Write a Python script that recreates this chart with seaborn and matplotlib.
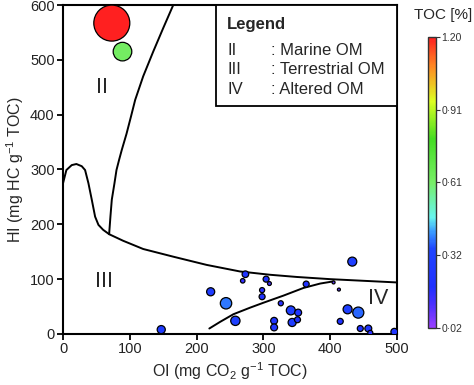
import numpy as np
import pandas as pd
import matplotlib
matplotlib.use("Agg")
import matplotlib.pyplot as plt
import seaborn as sns
from matplotlib.colors import LinearSegmentedColormap, Normalize
from matplotlib.cm import ScalarMappable
from matplotlib.patches import Rectangle

# samples: oxygen index, hydrogen index, TOC
oi = [73, 89, 147, 221, 244, 258, 273, 269, 298, 298, 304, 309, 326, 341, 352,
      351, 343, 316, 316, 364, 405, 413, 433, 426, 442, 415, 445, 457, 460, 496]
hi = [567, 515, 8, 77, 56, 24, 109, 97, 80, 68, 100, 92, 56, 43, 39,
      26, 21, 24, 12, 91, 94, 81, 132, 45, 39, 23, 10, 10, 2, 4]
toc = [1.20, 0.62, 0.27, 0.27, 0.38, 0.31, 0.22, 0.15, 0.17, 0.20, 0.20, 0.13, 0.17, 0.30, 0.23,
       0.20, 0.27, 0.23, 0.23, 0.20, 0.10, 0.10, 0.30, 0.30, 0.37, 0.20, 0.20, 0.23, 0.17, 0.23]

# kerogen type boundaries
line3_x = [0, 5, 13, 20, 28, 33, 38, 43, 48, 53, 60, 69, 90, 120, 165, 215, 265, 310, 350, 400, 450, 500]
line3_y = [275, 299, 308, 310, 306, 299, 275, 245, 214, 199, 190, 182, 170, 155, 141, 126, 114, 108, 104, 100, 97, 94]
line2_x = [69, 71, 73, 77, 80, 84, 88, 95, 102, 108, 120, 135, 150, 165]
line2_y = [182, 215, 245, 275, 299, 318, 336, 365, 398, 427, 470, 515, 558, 600]
line4_x = [219, 235, 255, 280, 300, 330, 360, 385, 405]
line4_y = [10, 22, 36, 48, 57, 70, 84, 92, 96]

cbar_ticks = [0.02, 0.315, 0.61, 0.905, 1.20]
cbar_labels = ["0·02", "0·32", "0·61", "0·91", "1.20"]
legend_keys = ["II", "III", "IV"]
legend_names = [": Marine OM", ": Terrestrial OM", ": Altered OM"]

sns.set_theme(style="white")
plt.rcParams["font.family"] = ["Liberation Sans", "DejaVu Sans"]
plt.rcParams["mathtext.default"] = "regular"

cmap = LinearSegmentedColormap.from_list("toc", [
    (0.0, "#9a40ff"), (0.08, "#4a30ff"), (0.14, "#2030ff"), (0.27, "#1f45ff"),
    (0.33, "#3a9aff"), (0.38, "#66f5ee"), (0.5, "#77ee66"), (0.65, "#44dd22"),
    (0.78, "#ddff22"), (0.9, "#ff8822"), (1.0, "#ff2020")])
norm = Normalize(0.02, 1.20)

df = pd.DataFrame({"OI": oi, "HI": hi, "TOC": toc})
df["area"] = df["TOC"] ** 2
df = df.sort_values("area", ascending=False)

fig = plt.figure(figsize=(4.74, 3.85), dpi=100)
ax = fig.add_axes([0.133, 0.1325, 0.7046, 0.8545])

for xs, ys in [(line3_x, line3_y), (line2_x, line2_y), (line4_x, line4_y)]:
    ax.plot(xs, ys, color="black", lw=1.4, zorder=2)

sns.scatterplot(data=df, x="OI", y="HI", hue="TOC", palette=cmap, hue_norm=norm,
                size="area", sizes=(0, 672), size_norm=(0, 1.44),
                edgecolor="black", linewidth=0.9, legend=False, ax=ax, zorder=3)

ax.set_xlim(0, 500)
ax.set_ylim(0, 600)
ax.set_xticks(range(0, 501, 100))
ax.set_yticks(range(0, 601, 100))
for s in ax.spines.values():
    s.set_color("black")
    s.set_linewidth(1.5)
ax.tick_params(bottom=True, left=True, direction="out", length=4, width=1.3,
               color="black", labelsize=10.5, labelcolor="#222222", pad=2)
ax.set_xlabel(r"OI (mg CO$_2$ g$^{-1}$ TOC)", fontsize=11.5, labelpad=3)
ax.set_ylabel(r"HI (mg HC g$^{-1}$ TOC)", fontsize=11.5, labelpad=3)

ax.text(58, 449, "II", fontsize=15.5, ha="center", va="center")
ax.text(62, 95, "III", fontsize=15.5, ha="center", va="center")
ax.text(472, 65, "IV", fontsize=15.5, ha="center", va="center")

# legend box
ax.add_patch(Rectangle((0.458, 0.693), 0.542, 0.307, transform=ax.transAxes,
                       facecolor="white", edgecolor="black", lw=1.3, zorder=4))
ax.text(0.491, 0.942, "Legend", transform=ax.transAxes, fontsize=12,
        fontweight="bold", va="center", zorder=5)
for i, (k, n) in enumerate(zip(legend_keys, legend_names)):
    yy = 0.863 - i * 0.06
    ax.text(0.491, yy, k, transform=ax.transAxes, fontsize=12, va="center", zorder=5)
    ax.text(0.622, yy, n, transform=ax.transAxes, fontsize=12, va="center", zorder=5)

# colour bar
cax = fig.add_axes([0.903, 0.148, 0.017, 0.756])
cb = fig.colorbar(ScalarMappable(norm=norm, cmap=cmap), cax=cax)
cb.set_ticks(cbar_ticks)
cb.set_ticklabels(cbar_labels)
cb.outline.set_edgecolor("#333333")
cb.outline.set_linewidth(1.0)
cax.tick_params(right=True, length=3, width=0.8, color="#333333",
                labelsize=7.5, labelcolor="#333333", pad=1)
fig.text(0.935, 0.961, "TOC [%]", fontsize=11, ha="center", va="center")

fig.savefig("out.png", dpi=100)
